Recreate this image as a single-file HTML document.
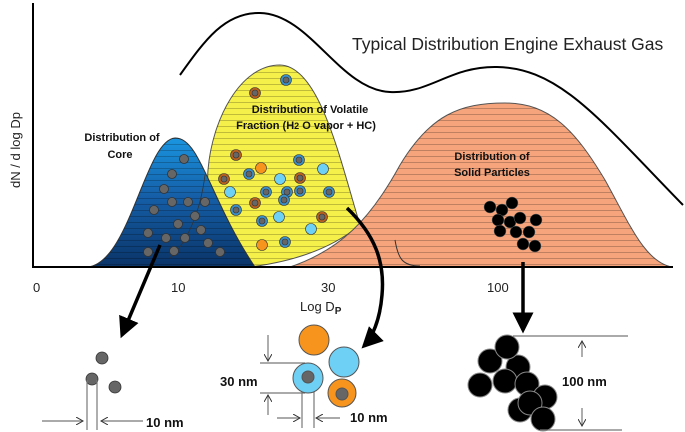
<!DOCTYPE html>
<html><head><style>body{margin:0;background:#fff}svg{display:block}text{font-family:"Liberation Sans",sans-serif}</style></head>
<body>
<svg width="685" height="432" viewBox="0 0 685 432" xmlns="http://www.w3.org/2000/svg">
<defs>
<linearGradient id="bg" x1="0" y1="0" x2="0" y2="1"><stop offset="0" stop-color="#1a95e0"/><stop offset="0.45" stop-color="#155fa8"/><stop offset="1" stop-color="#0a3468"/></linearGradient>
<pattern id="st" width="10" height="6" patternUnits="userSpaceOnUse"><rect width="10" height="1" fill="rgba(0,0,0,0.22)"/></pattern>
<marker id="ah" markerWidth="6" markerHeight="6" refX="5" refY="3" orient="auto"><path d="M0,0 L6,3 L0,6 z" fill="#000"/></marker>
<marker id="sa" markerWidth="8" markerHeight="8" refX="7" refY="4" orient="auto" markerUnits="userSpaceOnUse"><path d="M0,0 L7,4 L0,8" fill="none" stroke="#333" stroke-width="1"/></marker>
</defs>
<path d="M180,75 C205,40 225,12 260,13 C310,14 340,90 390,92 C430,94 450,66 497,67 C560,68 600,120 683,205" fill="none" stroke="#000" stroke-width="2"/>
<text x="352" y="50" font-size="17.5" fill="#222">Typical Distribution Engine Exhaust Gas</text>
<path d="M250,267 C225,240 205,210 208,170 C212,120 240,65 280,65 C320,66 340,160 360,225 C330,250 290,262 250,267 z" fill="#f6f14a" stroke="#555" stroke-width="1"/>
<path d="M250,267 C225,240 205,210 208,170 C212,120 240,65 280,65 C320,66 340,160 360,225 C330,250 290,262 250,267 z" fill="url(#st)"/>
<path d="M290,267 C340,250 370,220 400,165 C430,115 460,103 505,103 C550,103 575,130 605,180 C630,225 645,262 672,267 z" fill="#f5a47c" stroke="#555" stroke-width="1"/>
<path d="M290,267 C340,250 370,220 400,165 C430,115 460,103 505,103 C550,103 575,130 605,180 C630,225 645,262 672,267 z" fill="url(#st)"/>
<path d="M395,240 C398,258 402,266 420,266" fill="none" stroke="#333" stroke-width="1"/>
<path d="M88,267 C130,262 145,140 175,138 C200,137 210,200 255,267 z" fill="url(#bg)" stroke="#333" stroke-width="1"/>
<path d="M88,267 C130,262 145,140 175,138 C200,137 210,200 255,267 z" fill="url(#st)"/>
<path d="M205,175 C200,215 185,245 170,258" fill="none" stroke="#333" stroke-width="0.8"/>
<line x1="33" y1="3" x2="33" y2="268" stroke="#000" stroke-width="2"/>
<line x1="32" y1="267" x2="673" y2="267" stroke="#000" stroke-width="2"/>
<text x="20" y="150" font-size="13" fill="#222" transform="rotate(-90 20 150)" text-anchor="middle">dN / d log Dp</text>
<g font-size="13" fill="#222"><text x="33" y="292">0</text><text x="171" y="292">10</text><text x="321" y="292">30</text><text x="487" y="292">100</text>
<text x="300" y="311">Log  D<tspan font-size="10" font-weight="bold" dy="3">P</tspan></text></g>
<g fill="#666" stroke="#333" stroke-width="0.8">
<circle cx="184" cy="159" r="4.5"/><circle cx="172" cy="174" r="4.5"/><circle cx="164" cy="189" r="4.5"/><circle cx="172" cy="202" r="4.5"/><circle cx="188" cy="202" r="4.5"/><circle cx="205" cy="202" r="4.5"/><circle cx="154" cy="210" r="4.5"/><circle cx="195" cy="216" r="4.5"/><circle cx="178" cy="224" r="4.5"/><circle cx="201" cy="230" r="4.5"/><circle cx="148" cy="233" r="4.5"/><circle cx="166" cy="238" r="4.5"/><circle cx="185" cy="238" r="4.5"/><circle cx="208" cy="243" r="4.5"/><circle cx="148" cy="252" r="4.5"/><circle cx="174" cy="251" r="4.5"/><circle cx="220" cy="252" r="4.5"/></g>
<g stroke="#333" stroke-width="0.6">
<g fill="#3a8fc8"><circle cx="286" cy="80" r="5.5"/><circle cx="299" cy="160" r="5.5"/><circle cx="249" cy="174" r="5.5"/><circle cx="287" cy="192" r="5.5"/><circle cx="266" cy="192" r="5.5"/><circle cx="300" cy="191" r="5.5"/><circle cx="284" cy="200" r="5.5"/><circle cx="329" cy="192" r="5.5"/><circle cx="236" cy="210" r="5.5"/><circle cx="262" cy="221" r="5.5"/><circle cx="285" cy="242" r="5.5"/></g>
<g fill="#b8601e"><circle cx="255" cy="93" r="5.5"/><circle cx="236" cy="155" r="5.5"/><circle cx="224" cy="179" r="5.5"/><circle cx="300" cy="178" r="5.5"/><circle cx="255" cy="203" r="5.5"/><circle cx="322" cy="217" r="5.5"/></g>
<g fill="#666"><circle cx="286" cy="80" r="3"/><circle cx="299" cy="160" r="3"/><circle cx="249" cy="174" r="3"/><circle cx="287" cy="192" r="3"/><circle cx="266" cy="192" r="3"/><circle cx="300" cy="191" r="3"/><circle cx="284" cy="200" r="3"/><circle cx="329" cy="192" r="3"/><circle cx="236" cy="210" r="3"/><circle cx="262" cy="221" r="3"/><circle cx="285" cy="242" r="3"/><circle cx="255" cy="93" r="3"/><circle cx="236" cy="155" r="3"/><circle cx="224" cy="179" r="3"/><circle cx="300" cy="178" r="3"/><circle cx="255" cy="203" r="3"/><circle cx="322" cy="217" r="3"/></g>
<g fill="#f7941d"><circle cx="261" cy="168" r="5.5"/><circle cx="262" cy="245" r="5.5"/></g>
<g fill="#6fd0f5"><circle cx="230" cy="192" r="5.5"/><circle cx="280" cy="179" r="5.5"/><circle cx="323" cy="169" r="5.5"/><circle cx="279" cy="217" r="5.5"/><circle cx="311" cy="229" r="5.5"/></g>
</g>
<g font-size="11" font-weight="bold" fill="#111" text-anchor="middle">
<text x="310" y="113">Distribution of Volatile</text>
<text x="306" y="129">Fraction (H<tspan font-size="9">2</tspan> O vapor + HC)</text>
<text x="122" y="141">Distribution of</text><text x="120" y="158">Core</text>
<text x="492" y="160">Distribution of</text><text x="492" y="176">Solid Particles</text></g>
<g fill="#000" stroke="#666" stroke-width="0.5">
<circle cx="490" cy="207" r="6"/><circle cx="502" cy="210" r="6"/><circle cx="512" cy="203" r="6"/><circle cx="498" cy="220" r="6"/><circle cx="510" cy="222" r="6"/><circle cx="520" cy="218" r="6"/><circle cx="536" cy="220" r="6"/><circle cx="500" cy="231" r="6"/><circle cx="516" cy="232" r="6"/><circle cx="529" cy="232" r="6"/><circle cx="523" cy="244" r="6"/><circle cx="535" cy="246" r="6"/></g>
<g stroke="#000" stroke-width="3.5" fill="none" marker-end="url(#ah)">
<path d="M160,245 L122,335"/>
<path d="M347,208 C375,235 385,262 382,295 C380,320 372,338 364,346"/>
<path d="M523,262 L523,330"/></g>
<g fill="#666" stroke="#333" stroke-width="0.8"><circle cx="102" cy="358" r="6"/><circle cx="92" cy="379" r="6"/><circle cx="115" cy="387" r="6"/></g>
<g stroke="#777" stroke-width="1.2" fill="none"><line x1="87" y1="380" x2="87" y2="430"/><line x1="97" y1="380" x2="97" y2="430"/>
<line x1="42" y1="421" x2="83" y2="421" marker-end="url(#sa)"/><line x1="143" y1="421" x2="101" y2="421" marker-end="url(#sa)"/></g>
<text x="146" y="427" font-size="13" font-weight="bold" fill="#111">10 nm</text>
<g stroke="#777" stroke-width="1.2" fill="none"><line x1="260" y1="363" x2="305" y2="363"/><line x1="260" y1="393" x2="305" y2="393"/>
<line x1="268" y1="335" x2="268" y2="361" marker-end="url(#sa)"/><line x1="268" y1="415" x2="268" y2="395" marker-end="url(#sa)"/>
<line x1="302" y1="378" x2="302" y2="428"/><line x1="314" y1="378" x2="314" y2="428"/>
<line x1="277" y1="418" x2="300" y2="418" marker-end="url(#sa)"/><line x1="340" y1="418" x2="316" y2="418" marker-end="url(#sa)"/></g>
<g stroke="#555" stroke-width="1"><circle cx="314" cy="340" r="15" fill="#f7941d"/><circle cx="344" cy="362" r="15" fill="#6fd0f5"/><circle cx="308" cy="378" r="15" fill="#6fd0f5"/><circle cx="342" cy="393" r="14" fill="#f7941d"/>
<circle cx="308" cy="377" r="6" fill="#666"/><circle cx="342" cy="394" r="6" fill="#666"/></g>
<text x="220" y="386" font-size="13" font-weight="bold" fill="#111">30 nm</text>
<text x="350" y="422" font-size="13" font-weight="bold" fill="#111">10 nm</text>
<g fill="#000" stroke="#888" stroke-width="1">
<circle cx="490" cy="361" r="12"/><circle cx="518" cy="367" r="12"/><circle cx="507" cy="347" r="12"/><circle cx="505" cy="381" r="12"/><circle cx="480" cy="385" r="12"/><circle cx="527" cy="384" r="12"/><circle cx="545" cy="397" r="12"/><circle cx="520" cy="410" r="12"/><circle cx="530" cy="403" r="12"/><circle cx="543" cy="419" r="12"/></g>
<g stroke="#777" stroke-width="1.2" fill="none"><line x1="513" y1="336" x2="628" y2="336"/><line x1="540" y1="430" x2="622" y2="430"/>
<line x1="582" y1="357" x2="582" y2="341" marker-end="url(#sa)"/><line x1="582" y1="408" x2="582" y2="426" marker-end="url(#sa)"/></g>
<text x="562" y="386" font-size="13" font-weight="bold" fill="#111">100 nm</text>
</svg>
</body></html>
